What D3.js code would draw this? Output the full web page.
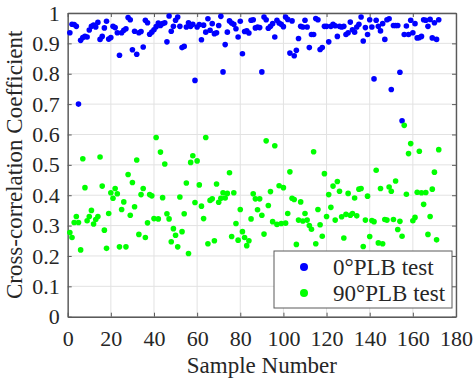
<!DOCTYPE html>
<html>
<head>
<meta charset="utf-8">
<script src="https://cdn.jsdelivr.net/npm/d3@7"></script>
<style>
  html, body { margin: 0; padding: 0; background: #fff; }
  svg { display: block; }
</style>
</head>
<body>
<svg id="chart" width="474" height="379"></svg>
<script>
// Sample numbers 1..172 (index i+1)
const blueValues = [
0.935,0.963,0.962,0.956,0.70,0.91,0.919,0.923,0.921,0.944,
0.956,0.96,0.954,0.969,0.913,0.923,0.951,0.973,0.914,0.919,
0.956,0.952,0.935,0.861,0.935,0.943,0.948,0.985,0.978,0.879,
0.94,0.864,0.935,0.939,0.888,0.976,0.968,0.93,0.937,0.945,
0.955,0.967,0.959,0.965,0.968,0.905,0.99,0.94,0.956,0.976,
0.987,0.956,0.886,0.89,0.954,0.968,0.956,0.963,0.778,0.954,
0.962,0.912,0.96,0.937,0.981,0.943,0.965,0.932,0.935,0.959,
0.989,0.806,0.896,0.937,0.974,0.967,0.963,0.948,0.921,0.973,
0.866,0.939,0.941,0.934,0.976,0.978,0.951,0.954,0.952,0.806,
0.987,0.978,0.95,0.956,0.965,0.921,0.976,0.967,0.963,0.955,
0.987,0.979,0.868,0.974,0.859,0.877,0.916,0.956,0.954,0.976,
0.954,0.886,0.929,0.929,0.982,0.978,0.88,0.886,0.956,0.956,
0.905,0.956,0.963,0.958,0.923,0.956,0.954,0.956,0.929,0.935,
0.97,0.945,0.937,0.954,0.963,0.987,0.908,0.952,0.929,0.978,
0.954,0.783,0.976,0.956,0.941,0.965,0.913,0.978,0.981,0.748,
0.959,0.959,0.959,0.805,0.645,0.929,0.957,0.929,0.976,0.935,
0.965,0.918,0.919,0.923,0.978,0.976,0.956,0.979,0.918,0.968,
0.913,0.978
];
const greenValues = [
0.277,0.261,0.31,0.33,0.31,0.22,0.52,0.425,0.316,0.33,
0.35,0.305,0.32,0.33,0.526,0.43,0.285,0.225,0.34,0.408,
0.39,0.422,0.405,0.23,0.353,0.378,0.23,0.468,0.334,0.442,
0.362,0.516,0.271,0.402,0.422,0.261,0.309,0.402,0.398,0.323,
0.59,0.322,0.542,0.392,0.503,0.339,0.322,0.247,0.29,0.268,
0.23,0.394,0.28,0.339,0.44,0.208,0.508,0.53,0.376,0.513,
0.434,0.364,0.323,0.59,0.24,0.383,0.388,0.25,0.437,0.377,
0.39,0.408,0.391,0.406,0.474,0.264,0.408,0.307,0.252,0.353,
0.28,0.261,0.234,0.25,0.322,0.405,0.388,0.352,0.388,0.334,
0.272,0.579,0.366,0.412,0.313,0.563,0.304,0.431,0.307,0.425,
0.308,0.34,0.477,0.39,0.386,0.238,0.318,0.378,0.315,0.34,
0.318,0.3,0.288,0.543,0.24,0.353,0.303,0.265,0.471,0.33,
0.402,0.36,0.43,0.318,0.445,0.413,0.329,0.259,0.337,0.406,
0.334,0.34,0.391,0.332,0.42,0.422,0.231,0.318,0.397,0.264,
0.317,0.313,0.482,0.243,0.422,0.24,0.32,0.318,0.427,0.413,
0.32,0.447,0.287,0.314,0.265,0.63,0.403,0.537,0.57,0.316,
0.327,0.41,0.545,0.408,0.37,0.409,0.271,0.33,0.42,0.476,
0.253,0.55
];
const xTicks = [0,20,40,60,80,100,120,140,160,180];
const yTicks = [0,0.1,0.2,0.3,0.4,0.5,0.6,0.7,0.8,0.9,1];
const seriesNames = ["0\u00B0PLB test", "90\u00B0PLB test"];
const seriesColors = ["#0000ff", "#00ff00"];

const FONT = "'Liberation Serif', 'Times New Roman', serif";
const margin = {left: 67.7, top: 13, right: 18, bottom: 62.3};
const W = 474, H = 379;
const svg = d3.select("#chart");
const x = d3.scaleLinear().domain([0, 180]).range([margin.left, W - margin.right]);
const y = d3.scaleLinear().domain([0, 1]).range([H - margin.bottom, margin.top]);
const frameColor = "#5a5a5a";
const textColor = "#262626";

// grid
const grid = svg.append("g");
grid.selectAll(".gx").data(xTicks).enter().append("line")
  .attr("x1", d => x(d)).attr("x2", d => x(d))
  .attr("y1", y(0)).attr("y2", y(1))
  .attr("stroke", "#e2e2e2").attr("stroke-width", 1);
grid.selectAll(".gy").data(yTicks).enter().append("line")
  .attr("x1", x(0)).attr("x2", x(180))
  .attr("y1", d => y(d)).attr("y2", d => y(d))
  .attr("stroke", "#e2e2e2").attr("stroke-width", 1);

// axes
const fmtY = d => (d === 0 ? "0" : d === 1 ? "1" : d3.format(".1f")(d));
const xAxis = d3.axisBottom(x).tickValues(xTicks).tickSizeInner(-4).tickSizeOuter(0).tickPadding(14);
const yAxis = d3.axisLeft(y).tickValues(yTicks).tickFormat(fmtY).tickSizeInner(-4).tickSizeOuter(0).tickPadding(8);
const xTop = d3.axisTop(x).tickValues(xTicks).tickFormat("").tickSizeInner(-4).tickSizeOuter(0);
const yRight = d3.axisRight(y).tickValues(yTicks).tickFormat("").tickSizeInner(-4).tickSizeOuter(0);

function styleAxis(g) {
  g.attr("font-family", null).attr("font-size", null);
  g.selectAll("path").attr("stroke", frameColor).attr("stroke-width", 1.4);
  g.selectAll("line").attr("stroke", frameColor).attr("stroke-width", 1);
  g.selectAll("text").style("font-family", FONT)
    .style("font-size", "22px").attr("fill", textColor);
}
svg.append("g").attr("transform", `translate(0,${y(0)})`).call(xAxis).call(styleAxis);
svg.append("g").attr("transform", `translate(${x(0)},0)`).call(yAxis).call(styleAxis);
svg.append("g").attr("transform", `translate(0,${y(1)})`).call(xTop).call(styleAxis);
svg.append("g").attr("transform", `translate(${x(180)},0)`).call(yRight).call(styleAxis);

// points
const blueData = blueValues.map((v, i) => ({x: i + 1, y: v}));
const greenData = greenValues.map((v, i) => ({x: i + 1, y: v}));
const r = 2.8;
svg.append("g").selectAll("circle").data(blueData).enter().append("circle")
  .attr("cx", d => x(d.x)).attr("cy", d => y(d.y)).attr("r", r).attr("fill", seriesColors[0]);
svg.append("g").selectAll("circle").data(greenData).enter().append("circle")
  .attr("cx", d => x(d.x)).attr("cy", d => y(d.y)).attr("r", r).attr("fill", seriesColors[1]);

// axis titles
svg.append("text").attr("x", (x(0) + x(180)) / 2).attr("y", 373)
  .attr("text-anchor", "middle").style("font-family", FONT).style("font-size", "23px")
  .attr("fill", textColor).text("Sample Number");
svg.append("text").attr("transform", `translate(22,${(y(0) + y(1)) / 2}) rotate(-90)`)
  .attr("text-anchor", "middle").style("font-family", FONT).style("font-size", "23px")
  .attr("fill", textColor).text("Cross-correlation Coefficient");

// legend
const lg = svg.append("g");
lg.append("rect").attr("x", 274).attr("y", 251).attr("width", 178).attr("height", 57)
  .attr("fill", "#fff").attr("stroke", frameColor).attr("stroke-width", 1);
seriesNames.forEach((name, i) => {
  const cy = 267 + i * 26;
  lg.append("circle").attr("cx", 304).attr("cy", cy).attr("r", 4).attr("fill", seriesColors[i]);
  lg.append("text").attr("x", 333).attr("y", cy + 8).style("font-family", FONT).style("font-size", "23px")
    .attr("fill", textColor).text(name);
});
</script>
</body>
</html>
